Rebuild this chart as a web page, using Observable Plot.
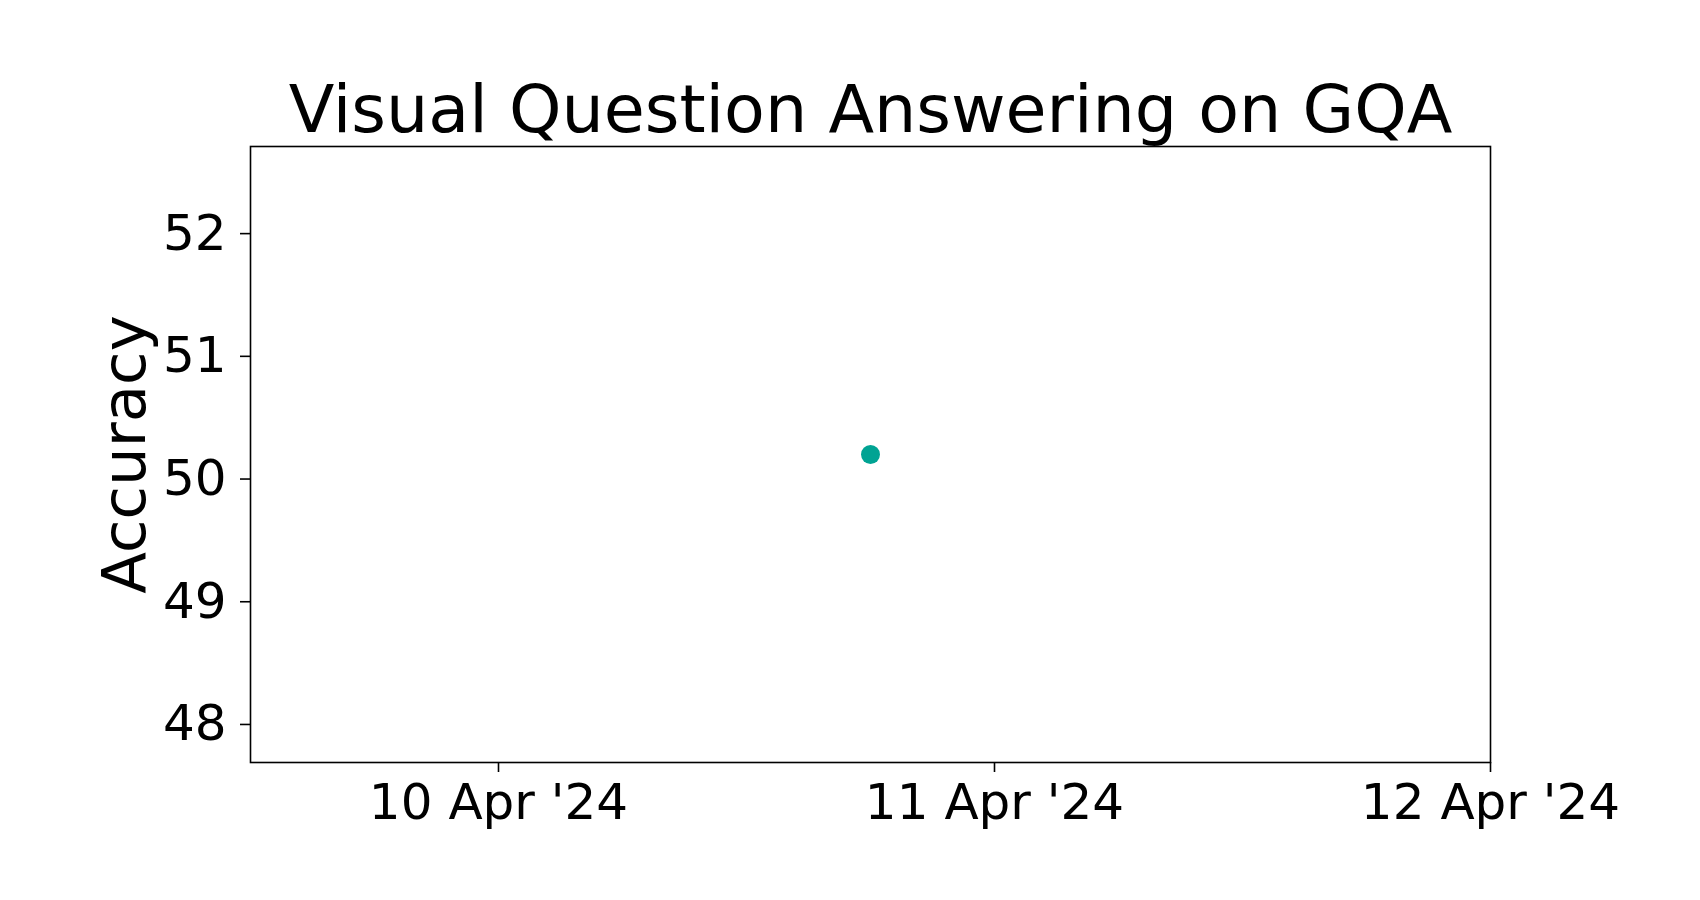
<!DOCTYPE html>
<html>
<head>
<meta charset="utf-8">
<script src="https://cdn.jsdelivr.net/npm/d3@7"></script>
<script src="https://cdn.jsdelivr.net/npm/@observablehq/plot@0.6"></script>
<style>
  html, body { margin: 0; padding: 0; background: #fff; }
</style>
</head>
<body>
<div id="chart"></div>
<script>
// Data
const dates = ["2024-04-10T18:00:00Z"];
const accuracy = [50.2];

// Axis ticks
const yTicks = [48, 49, 50, 51, 52];
const xTicks = ["2024-04-10T00:00:00Z", "2024-04-11T00:00:00Z", "2024-04-12T00:00:00Z"];
const xTickLabels = ["10 Apr '24", "11 Apr '24", "12 Apr '24"];
const xDomain = ["2024-04-09T12:00:00Z", "2024-04-12T00:00:00Z"];
const yDomain = [47.69, 52.71];

const title = "Visual Question Answering on GQA";
const yLabel = "Accuracy";

const rows = dates.map((d, i) => ({date: new Date(d), acc: accuracy[i]}));
const xTickDates = xTicks.map(d => new Date(d));
const labelFor = new Map(xTickDates.map((d, i) => [+d, xTickLabels[i]]));

const chart = Plot.plot({
  width: 1700,
  height: 900,
  marginLeft: 250,
  marginRight: 210,
  marginTop: 146,
  marginBottom: 138,
  style: {fontFamily: "'DejaVu Sans', sans-serif", fontSize: "50px", background: "white", color: "black", overflow: "visible"},
  x: {type: "utc", domain: xDomain.map(d => new Date(d))},
  y: {domain: yDomain},
  marks: [
    Plot.axisY({ticks: yTicks, tickSize: 10, tickPadding: 14, label: null, fontSize: 50, strokeWidth: 1.6,
      tickFormat: d3.format("d")}),
    Plot.axisX({ticks: xTickDates, tickSize: 10, tickPadding: 11, label: null, fontSize: 50, strokeWidth: 1.6,
      tickFormat: d => labelFor.get(+d)}),
    Plot.frame({stroke: "black", strokeWidth: 1.6}),
    Plot.dot(rows, {x: "date", y: "acc", r: 9.5, fill: "#00a393", stroke: "none"}),
    Plot.text([title], {frameAnchor: "top", lineAnchor: "bottom", textAnchor: "middle", dy: -15, fontSize: 66.7, fill: "black"}),
    Plot.text([yLabel], {frameAnchor: "left", lineAnchor: "bottom", textAnchor: "middle", rotate: -90, dx: -106, fontSize: 61, fill: "black"})
  ]
});
document.getElementById("chart").appendChild(chart);
</script>
</body>
</html>
